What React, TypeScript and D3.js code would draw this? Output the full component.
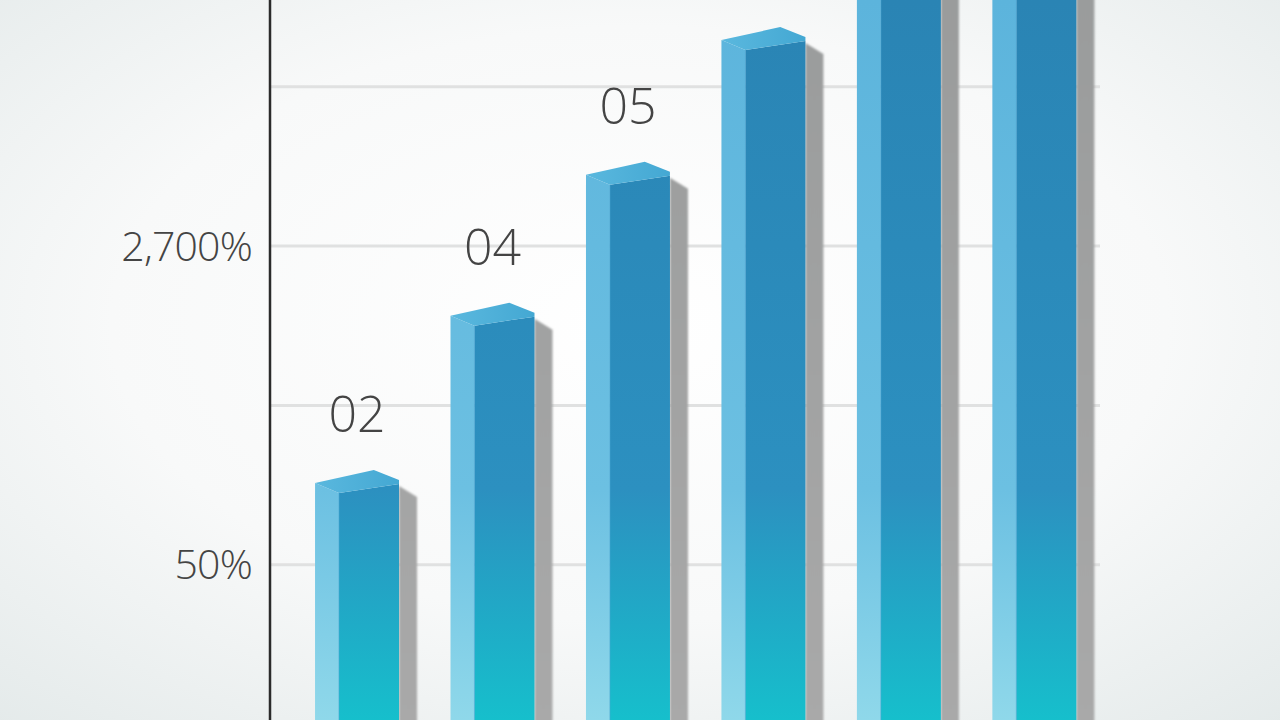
import React from "react";
import * as d3 from "d3";

const categories = ["A", "B", "C", "D", "E", "F"];
const barValues = [1.594, 2.645, 3.53, 4.375, 5.2, 6.0];
const barLabels = ["02", "04", "05", "", "", ""];
const yTickValues = [1, 2, 3, 4];
const yTickLabels = ["50%", "", "2,700%", ""];

const W = 1280;
const H = 720;

export default function App() {
  const y = d3.scaleLinear().domain([0, 4.5]).range([724, 724 - 4.5 * 159.3]);
  const x = d3
    .scaleBand<string>()
    .domain(categories)
    .range([274.4, 1117])
    .paddingInner(0.38)
    .paddingOuter(0.3);
  const bw = x.bandwidth();
  const sideW = bw * 0.285;
  const shadowW = 18;
  const base = y(0);
  const axisX = 270;

  return (
    <svg
      width={W}
      height={H}
      style={{ position: "absolute", left: 0, top: 0, display: "block" }}
    >
      <defs>
        <radialGradient id="bg" cx="50%" cy="45%" r="75%">
          <stop offset="0%" stopColor="#ffffff" />
          <stop offset="55%" stopColor="#f8f9f9" />
          <stop offset="100%" stopColor="#e4eaea" />
        </radialGradient>
        <linearGradient id="front" gradientUnits="userSpaceOnUse" x1="0" y1="0" x2="0" y2="720">
          <stop offset="0%" stopColor="#2a84b4" />
          <stop offset="68%" stopColor="#2c90c0" />
          <stop offset="100%" stopColor="#16bfcc" />
        </linearGradient>
        <linearGradient id="side" gradientUnits="userSpaceOnUse" x1="0" y1="0" x2="0" y2="720">
          <stop offset="0%" stopColor="#5cb4dc" />
          <stop offset="68%" stopColor="#6cc0e2" />
          <stop offset="100%" stopColor="#8fd8ea" />
        </linearGradient>
        <linearGradient id="shadow" gradientUnits="userSpaceOnUse" x1="0" y1="0" x2="0" y2="720">
          <stop offset="0%" stopColor="#9a9c9c" />
          <stop offset="100%" stopColor="#a9a9a9" />
        </linearGradient>
        <linearGradient id="topFace" x1="0" y1="0" x2="1" y2="0">
          <stop offset="0%" stopColor="#5ab8de" />
          <stop offset="100%" stopColor="#44a8d3" />
        </linearGradient>
        <filter id="soft" x="-20%" y="-5%" width="140%" height="110%">
          <feGaussianBlur stdDeviation="1.2" />
        </filter>
      </defs>
      <rect x={0} y={0} width={W} height={H} fill="url(#bg)" />

      {yTickValues.map((v) => (
        <line
          key={"g" + v}
          x1={axisX}
          x2={1100}
          y1={y(v)}
          y2={y(v)}
          stroke="#e0e1e1"
          strokeWidth={3}
        />
      ))}

      {categories.map((c, i) => {
        const x0 = x(c) as number;
        const P = y(barValues[i]);
        const xf = x0 + sideW;
        const xr = x0 + bw;
        const top = [
          [x0, P + 13],
          [x0 + bw * 0.7, P],
          [xr, P + 10],
          [xr, P + 14],
          [xf, P + 23],
        ];
        return (
          <g key={c}>
            <polygon
              points={`${xr},${P + 16} ${xr + shadowW},${P + 27} ${xr + shadowW},${base} ${xr},${base}`}
              fill="url(#shadow)"
              filter="url(#soft)"
            />
            <polygon
              points={`${x0},${P + 13} ${xf},${P + 23} ${xf},${base} ${x0},${base}`}
              fill="url(#side)"
            />
            <polygon
              points={`${xf},${P + 23} ${xr},${P + 14} ${xr},${base} ${xf},${base}`}
              fill="url(#front)"
            />
            <polygon points={top.map((p) => p.join(",")).join(" ")} fill="url(#topFace)" />
            <line x1={xf} x2={xf} y1={P + 23} y2={base} stroke="#4aa6d4" strokeWidth={1} opacity={0.6} />
            {barLabels[i] ? (
              <text
                x={x0 + bw / 2}
                y={P - 38}
                textAnchor="middle"
                fontFamily="'Open Sans', sans-serif"
                fontWeight={300}
                fontSize={50}
                fill="#444444"
              >
                {barLabels[i]}
              </text>
            ) : null}
          </g>
        );
      })}

      <line x1={axisX} x2={axisX} y1={0} y2={H} stroke="#2b2b2b" strokeWidth={2.5} />

      {yTickValues.map((v, i) =>
        yTickLabels[i] ? (
          <text
            key={"t" + v}
            x={252}
            y={y(v)}
            dy="0.36em"
            textAnchor="end"
            fontFamily="'Open Sans', sans-serif"
            fontWeight={300}
            fontSize={41}
            letterSpacing={-0.8}
            fill="#444444"
          >
            {yTickLabels[i]}
          </text>
        ) : null
      )}
    </svg>
  );
}
